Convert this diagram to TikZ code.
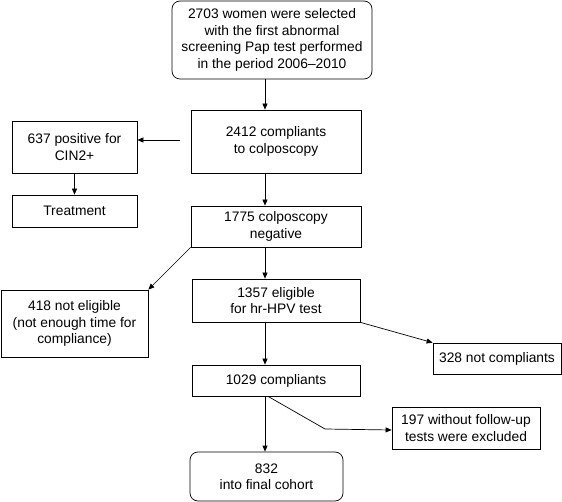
\documentclass[tikz,border=0pt]{standalone}
\usepackage{fontspec}
\setmainfont{Liberation Sans}
\usetikzlibrary{arrows.meta,calc}
\begin{document}
\begin{tikzpicture}[x=1pt,y=-1pt,
  box/.style={draw, line width=0.7pt, align=center, inner sep=0pt,
    font=\fontsize{13.8}{16.5}\selectfont},
  rbox/.style={box, rounded corners=8pt},
  arr/.style={draw, line width=0.7pt, -{Triangle[length=6pt,width=5pt]}}]
\useasboundingbox (0,0) rectangle (562,502);
\node[rbox, minimum width=200pt, minimum height=78pt] (b2703) at (272,40)
  {2703 women were selected\\with the first abnormal\\screening Pap test performed\\in the period 2006--2010};
\node[box, minimum width=170pt, minimum height=63pt] (b2412) at (276,141.5)
  {2412 compliants\\to colposcopy};
\node[box, minimum width=125pt, minimum height=52pt] (b637) at (74.5,147)
  {637 positive for\\CIN2+};
\node[box, minimum width=125pt, minimum height=32pt] (treat) at (74.5,211)
  {Treatment};
\node[box, minimum width=170pt, minimum height=41pt] (b1775) at (276,226.5)
  {1775 colposcopy\\negative};
\node[box, minimum width=147pt, minimum height=67pt] (b418) at (74.5,323.5)
  {418 not eligible\\(not enough time for\\compliance)};
\node[box, minimum width=168pt, minimum height=43pt] (b1357) at (276,300.5)
  {1357 eligible\\for hr-HPV test};
\node[box, minimum width=128pt, minimum height=31pt] (b328) at (497,358.5)
  {328 not compliants};
\node[box, minimum width=168pt, minimum height=31pt] (b1029) at (276,380.5)
  {1029 compliants};
\node[box, minimum width=148pt, minimum height=42pt] (b197) at (466,428)
  {197 without follow-up\\tests were excluded};
\node[rbox, minimum width=153pt, minimum height=49pt] (b832) at (266.5,476.5)
  {832\\into final cohort};
\coordinate (ax) at (265,0);
\coordinate (lstart) at ([xshift=-11pt,yshift=1.5pt]b2412.west);
\coordinate (elbow) at (325,429);
\draw[arr] (b2703.south -| ax) -- (b2412.north -| ax);
\draw[arr] (b2412.south -| ax) -- (b1775.north -| ax);
\draw[arr] (b1775.south -| ax) -- (b1357.north -| ax);
\draw[arr] (b1357.south -| ax) -- (b1029.north -| ax);
\draw[arr] (b1029.south -| ax) -- (b832.north -| ax);
\draw[arr] (lstart) -- (lstart -| b637.east);
\draw[arr] (b637.south) -- (treat.north);
\draw[arr] (b1775.south west) -- (b418.north east);
\draw[arr] (b1357.south east) -- (b328.north west);
\draw[arr] ([xshift=-8pt]b1029.south) -- (elbow) -- ([yshift=-2pt]b197.west);
\end{tikzpicture}
\end{document}
